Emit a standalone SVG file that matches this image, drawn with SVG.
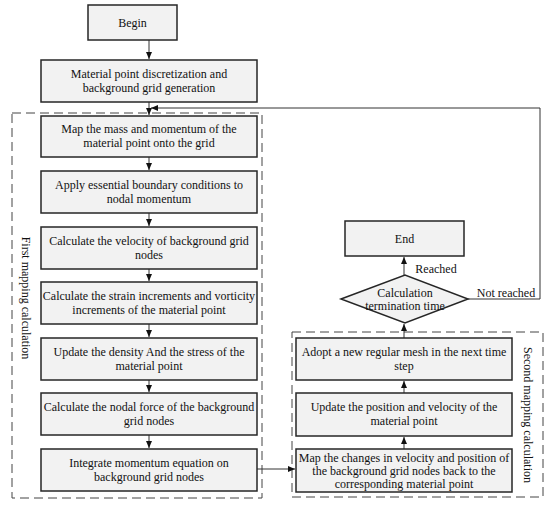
<svg xmlns="http://www.w3.org/2000/svg" width="550" height="505" viewBox="0 0 550 505">
<defs>
<style>
.box{fill:#f2f2f2;stroke:#262626;stroke-width:1.5}
.t{font-family:"Liberation Serif","Times New Roman","DejaVu Serif",serif;font-size:12px;fill:#111;text-anchor:middle}
.c{fill:none;stroke:#333;stroke-width:1}
.d{fill:none;stroke:#444;stroke-width:1;stroke-dasharray:9,5}
</style>
<marker id="a" markerWidth="8" markerHeight="8" refX="7" refY="4" orient="auto" markerUnits="userSpaceOnUse">
<path d="M0,1 L7,4 L0,7 Z" fill="#111"/>
</marker>
</defs>
<rect width="550" height="505" fill="#fff"/>
<g id="regions">
<rect class="d" x="12" y="113" width="250" height="385"/>
<rect class="d" x="292" y="332" width="251" height="165"/>
<text class="t" transform="translate(22,298) rotate(90)">First mapping calculation</text>
<text class="t" transform="translate(524,415) rotate(90)">Second mapping calculation</text>
</g>
<g id="connectors">
<line class="c" x1="149" y1="40" x2="149" y2="59" marker-end="url(#a)"/>
<line class="c" x1="149" y1="102" x2="149" y2="115" marker-end="url(#a)"/>
<polyline class="c" points="468,299 540,299 540,108 151,108" marker-end="url(#a)"/>
<line class="c" x1="149" y1="157" x2="149" y2="170" marker-end="url(#a)"/>
<line class="c" x1="149" y1="213" x2="149" y2="226" marker-end="url(#a)"/>
<line class="c" x1="149" y1="269" x2="149" y2="281" marker-end="url(#a)"/>
<line class="c" x1="149" y1="324" x2="149" y2="337" marker-end="url(#a)"/>
<line class="c" x1="149" y1="380" x2="149" y2="392" marker-end="url(#a)"/>
<line class="c" x1="149" y1="435" x2="149" y2="448" marker-end="url(#a)"/>
<line class="c" x1="257" y1="469" x2="295" y2="469" marker-end="url(#a)"/>
<line class="c" x1="404" y1="449" x2="404" y2="437" marker-end="url(#a)"/>
<line class="c" x1="404" y1="393" x2="404" y2="381" marker-end="url(#a)"/>
<line class="c" x1="404" y1="338" x2="404" y2="324" marker-end="url(#a)"/>
<line class="c" x1="404" y1="275" x2="404" y2="257" marker-end="url(#a)"/>
<text class="t" x="436" y="273">Reached</text>
<text class="t" x="506" y="297">Not reached</text>
</g>
<g id="begin"><rect class="box" x="88" y="5" width="89" height="35"/><text class="t" x="132.5" y="27">Begin</text></g>
<g id="discretize"><rect class="box" x="41" y="60" width="216" height="42"/><text class="t" x="149" y="78">Material point discretization and</text><text class="t" x="149" y="92">background grid generation</text></g>
<g id="map-mass"><rect class="box" x="41" y="116" width="216" height="41"/><text class="t" x="149" y="133">Map the mass and momentum of the</text><text class="t" x="149" y="147">material point onto the grid</text></g>
<g id="apply-bc"><rect class="box" x="41" y="171" width="216" height="42"/><text class="t" x="149" y="189">Apply essential boundary conditions to</text><text class="t" x="149" y="203">nodal momentum</text></g>
<g id="velocity"><rect class="box" x="41" y="227" width="216" height="42"/><text class="t" x="149" y="245">Calculate the velocity of background grid</text><text class="t" x="149" y="259">nodes</text></g>
<g id="strain"><rect class="box" x="41" y="282" width="216" height="42"/><text class="t" x="149" y="300">Calculate the strain increments and vorticity</text><text class="t" x="149" y="314">increments of the material point</text></g>
<g id="density"><rect class="box" x="41" y="338" width="216" height="42"/><text class="t" x="149" y="356">Update the density And the stress of the</text><text class="t" x="149" y="370">material point</text></g>
<g id="nodal-force"><rect class="box" x="41" y="393" width="216" height="42"/><text class="t" x="149" y="411">Calculate the  nodal force of the background</text><text class="t" x="149" y="425">grid nodes</text></g>
<g id="integrate"><rect class="box" x="41" y="449" width="216" height="42"/><text class="t" x="149" y="467">Integrate momentum equation on</text><text class="t" x="149" y="481">background grid nodes</text></g>
<g id="end"><rect class="box" x="345" y="221" width="119" height="35"/><text class="t" x="404.5" y="243">End</text></g>
<g id="termination"><polygon class="box" points="341,299 405,275 468,299 405,323"/><text class="t" x="405" y="297">Calculation</text><text class="t" x="405" y="310">termination time</text></g>
<g id="new-mesh"><rect class="box" x="296" y="338" width="216" height="42"/><text class="t" x="404" y="356">Adopt a new regular mesh in the next time</text><text class="t" x="404" y="370">step</text></g>
<g id="update-pos"><rect class="box" x="296" y="393" width="216" height="43"/><text class="t" x="404" y="411">Update the position and velocity of the</text><text class="t" x="404" y="425">material point</text></g>
<g id="map-back"><rect class="box" x="296" y="449" width="216" height="43"/><text class="t" x="404" y="462">Map the changes in velocity and position of</text><text class="t" x="404" y="475">the background grid nodes back to the</text><text class="t" x="404" y="488">corresponding material point</text></g>
</svg>
